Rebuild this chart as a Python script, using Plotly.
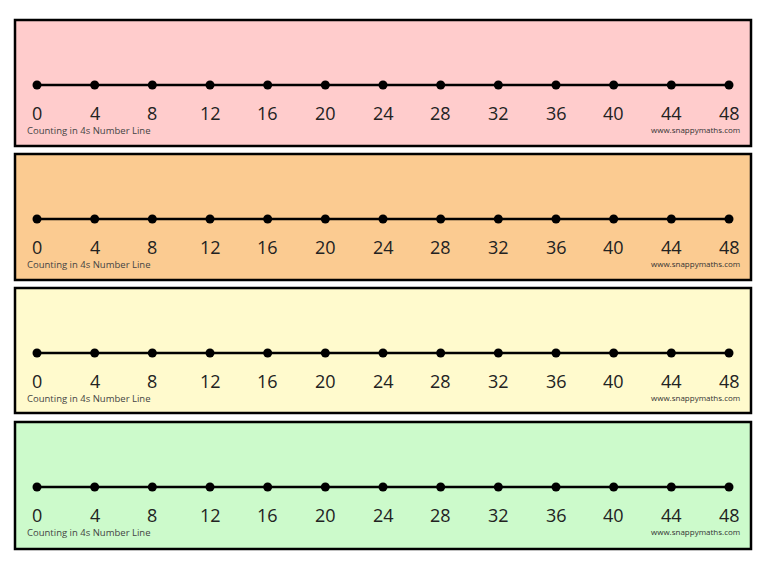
import plotly.graph_objects as go

values = list(range(0, 49, 4))
tick_labels = [str(v) for v in values]
colors = ["#FFCCCC", "#FBCB91", "#FFFACD", "#CCFACB"]
caption_left = "Counting in 4s Number Line"
caption_right = "www.snappymaths.com"

W, H, OFF = 760, 568, 8  # page body has 8px margin
panels = [(20, 146), (154, 280), (288, 413), (422, 549)]
line_off = 65

fig = go.Figure()
shapes = []
annotations = []
for (top, bot), col in zip(panels, colors):
    top -= OFF
    bot -= OFF
    shapes.append(dict(type="rect", xref="paper", yref="y", x0=(15-OFF)/W, x1=(751-OFF)/W,
                       y0=top, y1=bot, fillcolor=col, line=dict(color="black", width=2.5),
                       layer="below"))
    yl = top + line_off
    fig.add_trace(go.Scatter(x=values, y=[yl]*len(values), mode="lines+markers",
                             line=dict(color="black", width=2.5),
                             marker=dict(color="black", size=9), hoverinfo="skip"))
    for v, t in zip(values, tick_labels):
        annotations.append(dict(x=v, y=yl + 28, text=t, showarrow=False, xref="x", yref="y",
                                font=dict(family="Open Sans", size=18, color="#222")))
    annotations.append(dict(x=(25-OFF)/W, y=top + 110, xref="paper", yref="y", text=caption_left,
                            showarrow=False, xanchor="left",
                            font=dict(family="Open Sans", size=9.5, color="#444")))
    annotations.append(dict(x=(742-OFF)/W, y=top + 109, xref="paper", yref="y", text=caption_right,
                            showarrow=False, xanchor="right",
                            font=dict(family="Open Sans", size=8, color="#333")))

px0, px48 = 37 - OFF, 729 - OFF
scale = 48 / (px48 - px0)
fig.update_layout(
    width=W, height=H, margin=dict(l=0, r=0, t=0, b=0),
    plot_bgcolor="white", paper_bgcolor="white", showlegend=False,
    xaxis=dict(range=[-px0*scale, 48 + (W - px48)*scale], visible=False, fixedrange=True),
    yaxis=dict(range=[H, 0], visible=False, fixedrange=True),
    shapes=shapes, annotations=annotations,
)
fig.write_html("out.html")
